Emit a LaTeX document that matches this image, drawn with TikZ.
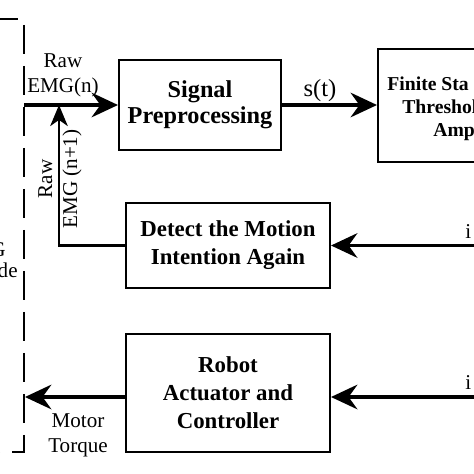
\documentclass[tikz,border=0pt]{standalone}
\usepackage{fontspec}
\setmainfont{Liberation Serif}
\usetikzlibrary{arrows.meta}

\begin{document}
\begin{tikzpicture}[x=0.02cm, y=-0.02cm,
    block/.style={draw, line width=1.2pt, inner sep=0pt, align=center,
      font=\bfseries\fontsize{13}{16}\selectfont},
    fsmtext/.style={anchor=base west, inner sep=0pt,
      font=\bfseries\fontsize{11.2}{12.5}\selectfont},
    tag/.style={align=center, inner sep=0pt, font=\fontsize{12}{14.2}\selectfont},
    flow/.style={line width=1.9pt, -{Stealth[length=15pt, width=14pt, inset=5pt]}},
    backflow/.style={line width=1.2pt, -{Stealth[length=12pt, width=10pt, inset=3.5pt]}}]
    \useasboundingbox (0,0) rectangle (474,474);
    \clip (0,0) rectangle (474,474);

    % blocks
    \node[block, minimum width=3.24cm, minimum height=1.8cm,
      font=\bfseries\fontsize{13.8}{14.8}\selectfont] (sig) at (200,105) {Signal\\Preprocessing};
    \node[block, minimum width=4cm, minimum height=2.26cm] (fsm) at (478,105.5) {};
    \node[block, minimum width=4.08cm, minimum height=1.7cm] (det) at (228,245.5) {Detect the Motion\\Intention Again};
    \node[block, minimum width=4.08cm, minimum height=2.36cm] (rob) at (228,393) {Robot\\Actuator and\\Controller};

    \node[fsmtext] (fsma) at (387,90) {Finite Sta};
    \node[fsmtext] (fsmb) at (402,113) {Threshol};
    \node[fsmtext] (fsmc) at (433,136) {Amp};

    % electrode side
    \draw[line width=1.2pt, dash pattern=on 0.58cm off 0.24cm] (-11,19) -- (24,19) -- (24,452) -- (-40,452);
    \node[tag, anchor=east] (ela) at (6,250) {G};
    \node[tag, anchor=east] (elb) at (18,270) {ode};

    \coordinate (emg) at (24,105);
    \coordinate (fb) at (59,105);
    \coordinate (cuea) at (480,245.5);
    \coordinate (cueb) at (480,397);
    \coordinate (torque) at (25,397);

    \draw[flow] (emg) -- (sig.west);
    \draw[flow] (sig.east) -- (fsm.west |- sig.east);
    \draw[backflow] (det.west) -| (fb);
    \draw[flow] (cuea) -- (det.east);
    \draw[flow] (cueb) -- (rob.east |- cueb);
    \draw[flow] (rob.west |- cueb) -- (torque);

    \node[tag] (rawn) at (63,75) {Raw\\EMG(n)};
    \node[tag, font=\fontsize{14}{16}\selectfont] (st) at (320,91) {s(t)};
    \node[tag, rotate=90] (rawm) at (60,179) {Raw\\EMG (n+1)};
    \node[tag] (mt) at (78,435) {Motor\\Torque};
    \node[tag, anchor=west] (ina) at (465,232) {i};
    \node[tag, anchor=west] (inb) at (465,383) {i};
\end{tikzpicture}
\end{document}
